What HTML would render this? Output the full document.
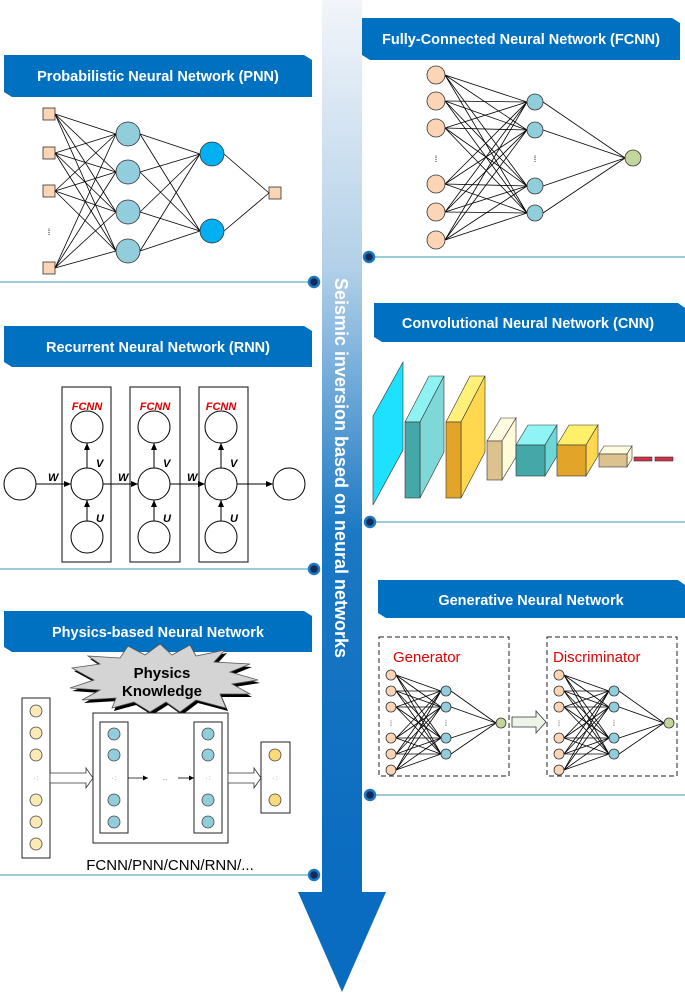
<!DOCTYPE html>
<html><head><meta charset="utf-8"><style>
html,body{margin:0;padding:0;background:#fff;}
svg{display:block;font-family:"Liberation Sans",Arial,sans-serif;}
</style></head><body>
<svg id="s" width="685" height="995" viewBox="0 0 685 995" xmlns="http://www.w3.org/2000/svg">
<defs>
<linearGradient id="bar" x1="0" y1="0" x2="0" y2="1">
<stop offset="0" stop-color="#f2f5fa"/><stop offset="0.3" stop-color="#b2d0e8"/><stop offset="0.6" stop-color="#1a78c4"/><stop offset="1" stop-color="#0a6cc0"/>
</linearGradient>
<marker id="ah" markerWidth="8" markerHeight="8" refX="7" refY="4" orient="auto" markerUnits="userSpaceOnUse"><path d="M0,1 L7,4 L0,7 z" fill="#000"/></marker>
<marker id="as" markerWidth="6" markerHeight="6" refX="5" refY="3" orient="auto" markerUnits="userSpaceOnUse"><path d="M0,0.5 L5,3 L0,5.5 z" fill="#000"/></marker>
</defs>
<!-- central bar -->
<rect x="322" y="0" width="40" height="893" fill="url(#bar)"/>
<polygon points="298,892 386,892 342,992" fill="#0a6cc0"/>
<text transform="translate(335,468) rotate(90)" text-anchor="middle" font-size="18" font-weight="bold" fill="#fff">Seismic inversion based on neural networks</text>

<!-- banners -->
<g fill="#0070c0">
<polygon points="4,55 304,55 312,60 312,97 12,97 4,92"/>
<polygon points="362,18 672,18 680,23 680,60 370,60 362,55"/>
<polygon points="4,326 304,326 312,331 312,367 12,367 4,362"/>
<polygon points="374,303 678,303 685,308 685,342 382,342 374,337"/>
<polygon points="4,611 304,611 312,616 312,652 12,652 4,647"/>
<polygon points="378,580 678,580 685,585 685,618 386,618 378,613"/>
</g>
<g fill="#fff" font-weight="bold" font-size="14.5" text-anchor="middle">
<text x="158" y="81">Probabilistic Neural Network (PNN)</text>
<text x="521" y="44">Fully-Connected Neural Network (FCNN)</text>
<text x="158" y="352">Recurrent Neural Network (RNN)</text>
<text x="528" y="328">Convolutional Neural Network (CNN)</text>
<text x="158" y="637">Physics-based Neural Network</text>
<text x="531" y="605">Generative Neural Network</text>
</g>
<!-- separator lines & dots -->
<g stroke="#7fbccf" stroke-width="1.5">
<line x1="0" y1="282" x2="312" y2="282"/><line x1="368" y1="257" x2="685" y2="257"/>
<line x1="0" y1="569" x2="312" y2="569"/><line x1="370" y1="522" x2="685" y2="522"/>
<line x1="0" y1="875" x2="312" y2="875"/><line x1="370" y1="795" x2="685" y2="795"/>
</g>
<g fill="#152a55" stroke="#1a78c4" stroke-width="2.5">
<circle cx="314" cy="282" r="5"/><circle cx="369" cy="257" r="5"/>
<circle cx="314" cy="569" r="5"/><circle cx="370" cy="522" r="5"/>
<circle cx="314" cy="875" r="5"/><circle cx="370" cy="795" r="5"/>
</g>

<g id="lines" stroke="#000" stroke-width="0.8" fill="none"></g>
<g id="nodes"></g>

<!-- PNN static bits -->
<text x="49" y="235" font-size="9" text-anchor="middle">⁞</text>
<text x="436" y="162" font-size="9" text-anchor="middle">⁞</text>
<text x="535" y="162" font-size="9" text-anchor="middle">⁞</text>

<!-- RNN -->
<g fill="none" stroke="#333" stroke-width="1.2">
<rect x="62" y="387" width="49" height="175"/><rect x="130" y="387" width="50" height="175"/><rect x="199" y="387" width="49" height="175"/>
</g>
<g fill="#fff" stroke="#000" stroke-width="1">
<circle cx="20" cy="484" r="16"/><circle cx="289" cy="484" r="16"/>
<circle cx="87" cy="484" r="16"/><circle cx="154" cy="484" r="16"/><circle cx="221" cy="484" r="16"/>
<circle cx="87" cy="427" r="16"/><circle cx="154" cy="427" r="16"/><circle cx="221" cy="427" r="16"/>
<circle cx="87" cy="537" r="16"/><circle cx="154" cy="537" r="16"/><circle cx="221" cy="537" r="16"/>
</g>
<g stroke="#000" stroke-width="1">
<line x1="36" y1="484" x2="71" y2="484" marker-end="url(#ah)"/>
<line x1="103" y1="484" x2="138" y2="484" marker-end="url(#ah)"/>
<line x1="170" y1="484" x2="205" y2="484" marker-end="url(#ah)"/>
<line x1="237" y1="484" x2="273" y2="484" marker-end="url(#ah)"/>
<line x1="87" y1="468" x2="87" y2="443" marker-end="url(#ah)"/><line x1="154" y1="468" x2="154" y2="443" marker-end="url(#ah)"/><line x1="221" y1="468" x2="221" y2="443" marker-end="url(#ah)"/>
<line x1="87" y1="521" x2="87" y2="500" marker-end="url(#ah)"/><line x1="154" y1="521" x2="154" y2="500" marker-end="url(#ah)"/><line x1="221" y1="521" x2="221" y2="500" marker-end="url(#ah)"/>
</g>
<g font-size="11" font-weight="bold" font-style="italic" fill="#e00000" text-anchor="middle">
<text x="87" y="410">FCNN</text><text x="155" y="410">FCNN</text><text x="221" y="410">FCNN</text>
</g>
<g font-size="11" font-weight="bold" font-style="italic">
<text x="48" y="481">W</text><text x="118" y="481">W</text><text x="187" y="481">W</text>
<text x="96" y="467">V</text><text x="163" y="467">V</text><text x="230" y="467">V</text>
<text x="96" y="522">U</text><text x="163" y="522">U</text><text x="230" y="522">U</text>
</g>

<!-- CNN -->
<g stroke="#333" stroke-width="0.6">
<polygon points="373,416 403,362 403,450 373,505" fill="#1ee0ff"/>
<polygon points="405,422 429,376 444,376 420,422" fill="#8ef2f2"/><polygon points="420,422 444,376 444,452 420,498" fill="#7ed8d8"/><rect x="405" y="422" width="15" height="76" fill="#45a8a8"/>
<polygon points="446,422 470,376 485,376 461,422" fill="#fff07a"/><polygon points="461,422 485,376 485,452 461,498" fill="#ffd850"/><rect x="446" y="422" width="15" height="76" fill="#e2a52a"/>
<polygon points="487,441 501,418 516,418 502,441" fill="#fffbe0"/><polygon points="502,441 516,418 516,457 502,480" fill="#fffbd8"/><rect x="487" y="441" width="15" height="39" fill="#dcc28e"/>
<polygon points="516,445 528,425 557,425 545,445" fill="#8ef4f4"/><polygon points="545,445 557,425 557,456 545,476" fill="#6ed6d6"/><rect x="516" y="445" width="29" height="31" fill="#45a8a8"/>
<polygon points="557,445 569,425 598,425 586,445" fill="#fff06a"/><polygon points="586,445 598,425 598,456 586,476" fill="#ffd850"/><rect x="557" y="445" width="29" height="31" fill="#e2a52a"/>
<polygon points="599,454 604,446 632,446 627,454" fill="#fffbe0"/><polygon points="627,454 632,446 632,459 627,467" fill="#fffbd8"/><rect x="599" y="454" width="28" height="13" fill="#dcc28e"/>
<rect x="634" y="457" width="18" height="4" fill="#d0304a"/><rect x="655" y="457" width="18" height="4" fill="#d0304a"/>
</g>

<!-- Physics -->
<polygon points="72,668 100,664 88,656 120,658 128,646 145,655 160,644 172,655 190,645 196,656 225,650 214,662 250,664 230,672 258,680 232,684 250,694 220,694 226,708 196,700 180,712 166,702 150,712 134,702 112,708 116,698 82,700 100,690 70,688 94,680" fill="#000" transform="translate(2,3)"/>
<polygon points="72,668 100,664 88,656 120,658 128,646 145,655 160,644 172,655 190,645 196,656 225,650 214,662 250,664 230,672 258,680 232,684 250,694 220,694 226,708 196,700 180,712 166,702 150,712 134,702 112,708 116,698 82,700 100,690 70,688 94,680" fill="#d4d4d4" stroke="#555" stroke-width="0.8"/>
<text x="162" y="678" font-size="15" font-weight="bold" text-anchor="middle">Physics</text>
<text x="162" y="696" font-size="15" font-weight="bold" text-anchor="middle">Knowledge</text>
<g fill="#fff" stroke="#222" stroke-width="1">
<rect x="22" y="698" width="28" height="160"/><rect x="93" y="713" width="135" height="130"/>
<rect x="100" y="722" width="28" height="111"/><rect x="194" y="722" width="28" height="111"/>
<rect x="261" y="742" width="29" height="71"/>
</g>
<g stroke="#444" stroke-width="0.8">
<g fill="#fde9b5"><circle cx="36" cy="711" r="6"/><circle cx="36" cy="733" r="6"/><circle cx="36" cy="755" r="6"/><circle cx="36" cy="800" r="6"/><circle cx="36" cy="822" r="6"/><circle cx="36" cy="844" r="6"/></g>
<g fill="#92cddc"><circle cx="114" cy="734" r="6"/><circle cx="114" cy="755" r="6"/><circle cx="114" cy="800" r="6"/><circle cx="114" cy="822" r="6"/>
<circle cx="208" cy="734" r="6"/><circle cx="208" cy="755" r="6"/><circle cx="208" cy="800" r="6"/><circle cx="208" cy="822" r="6"/></g>
<g fill="#fcd97b"><circle cx="275" cy="755" r="6"/><circle cx="275" cy="800" r="6"/></g>
</g>
<g font-size="6" fill="#666" text-anchor="middle"><text x="36" y="780">· :</text><text x="114" y="780">· :</text><text x="208" y="780">· :</text><text x="275" y="780">· :</text><text x="165" y="780">...</text></g>
<g fill="#fff" stroke="#333" stroke-width="0.8">
<polygon points="50,773 86,773 86,768 93,778 86,788 86,783 50,783"/>
<polygon points="228,773 254,773 254,768 261,778 254,788 254,783 228,783"/>
</g>
<g stroke="#000" stroke-width="0.8"><line x1="128" y1="778" x2="148" y2="778" marker-end="url(#as)"/><line x1="178" y1="778" x2="194" y2="778" marker-end="url(#as)"/></g>
<text x="170" y="870" font-size="15" text-anchor="middle">FCNN/PNN/CNN/RNN/...</text>

<!-- GAN boxes -->
<g fill="none" stroke="#222" stroke-width="1" stroke-dasharray="5,3">
<rect x="379" y="637" width="130" height="139"/><rect x="547" y="637" width="130" height="139"/>
</g>
<text x="393" y="662" font-size="15" fill="#e00000">Generator</text>
<text x="553" y="662" font-size="15" fill="#e00000">Discriminator</text>
<polygon points="512,717 536,717 536,711 546,722 536,733 536,727 512,727" fill="#eef5e8" stroke="#333" stroke-width="0.8"/>
<g font-size="7" text-anchor="middle"><text x="391" y="726">⁞</text><text x="446" y="726">⁞</text><text x="559" y="726">⁞</text><text x="614" y="726">⁞</text></g>
</svg>
<script>
var NS="http://www.w3.org/2000/svg",L=document.getElementById("lines"),N=document.getElementById("nodes");
function el(t,a,p){var e=document.createElementNS(NS,t);for(var k in a)e.setAttribute(k,a[k]);p.appendChild(e);return e;}
function conn(A,B,ax,bx,ra,rb){A.forEach(function(a){B.forEach(function(b){el("line",{x1:ax+ra,y1:a,x2:bx-rb,y2:b},L);});});}
function circ(x,ys,r,f){ys.forEach(function(y){el("circle",{cx:x,cy:y,r:r,fill:f,stroke:"#333","stroke-width":0.8},N);});}
// PNN
var pi=[114,153,191,268],ph=[134,172,212,251],po=[154,231];
conn(pi,ph,49,128,6,12);conn(ph,po,128,212,12,12);conn(po,[193],212,275,12,6);
pi.forEach(function(y){el("rect",{x:43,y:y-6,width:12,height:12,fill:"#fbd5b5",stroke:"#333","stroke-width":0.8},N);});
el("rect",{x:269,y:187,width:12,height:12,fill:"#fbd5b5",stroke:"#333","stroke-width":0.8},N);
circ(128,ph,12,"#92cddc");circ(212,po,12,"#00b0f0");
// FCNN
var fi=[75,101,128,184,212,240],fh=[102,130,186,213];
conn(fi,fh,436,535,9,8);conn(fh,[158],535,633,8,8);
circ(436,fi,9,"#fbd5b5");circ(535,fh,8,"#92cddc");circ(633,[158],8,"#c3d69b");
// GAN
[0,168].forEach(function(d){var gi=[675,691,707,738,754,770],gh=[691,707,738,754];
conn(gi,gh,391+d,446+d,5,5);conn(gh,[723],446+d,501+d,5,5);
circ(391+d,gi,5,"#fbd5b5");circ(446+d,gh,5,"#92cddc");circ(501+d,[723],5,"#c3d69b");});
</script>
</body></html>
